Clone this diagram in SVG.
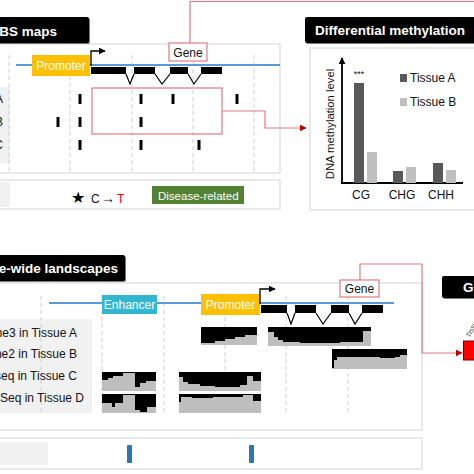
<svg xmlns="http://www.w3.org/2000/svg" width="474" height="474" viewBox="0 0 474 474">
<style>
text{font-family:"Liberation Sans",Arial,sans-serif;}
.panel{fill:#fff;stroke:#E2E2E2;stroke-width:1.5;}
.lab{fill:#F1F1F1;}
.dash{stroke:#CFCFCF;stroke-width:1;stroke-dasharray:4 3;fill:none;}
.blue{stroke:#5B9BD5;stroke-width:2.2;}
.exon{fill:#000;}
.intron{fill:none;stroke:#000;stroke-width:1.2;}
.tick{fill:#000;}
.title{fill:#000;}
.ttext{fill:#fff;font-weight:bold;font-size:13.5px;}
.wtext{fill:#fff;font-size:12px;}
.btext{fill:#111;font-size:12px;}
.pink{fill:none;stroke:#E07A80;stroke-width:1.2;}
.trkbg{fill:#BEBEBE;}
.trk{fill:#000;}
.barA{fill:#595959;}
.barB{fill:#BFBFBF;}
</style>
<defs>
<marker id="ah" viewBox="0 0 10 10" refX="9" refY="5" markerWidth="7" markerHeight="7" orient="auto" markerUnits="userSpaceOnUse"><path d="M0,0 L10,5 L0,10 z" fill="#000"/></marker>
<marker id="ahr" viewBox="0 0 10 10" refX="9" refY="5" markerWidth="7" markerHeight="7" orient="auto" markerUnits="userSpaceOnUse"><path d="M0,0 L10,5 L0,10 z" fill="#C00000"/></marker>
</defs>
<rect width="474" height="474" fill="#fff"/>

<!-- Top panel: BS maps -->
<g id="bs-panel">
<rect class="panel" x="-5" y="44" width="285" height="129"/>
<rect class="lab" x="0" y="87" width="10" height="76"/>
<line class="dash" x1="9" y1="55" x2="9" y2="172"/>
<line class="dash" x1="70" y1="55" x2="70" y2="172"/>
<line class="dash" x1="132" y1="55" x2="132" y2="172"/>
<line class="dash" x1="193" y1="55" x2="193" y2="172"/>
<line class="dash" x1="254" y1="55" x2="254" y2="172"/>
<text class="btext" x="3" y="103" text-anchor="end">Tissue A</text>
<text class="btext" x="3" y="126" text-anchor="end">Tissue B</text>
<text class="btext" x="3" y="149" text-anchor="end">Tissue C</text>
</g>
<g id="bs-title">
<rect x="-4" y="18" width="94" height="26" rx="2" fill="#777"/>
<rect class="title" x="-5" y="17" width="94" height="26" rx="2"/>
<text class="ttext" x="57" y="36" text-anchor="end">WGBS maps</text>
</g>
<g id="bs-gene">
<line class="blue" x1="16" y1="65" x2="280" y2="65"/>
<rect x="32" y="55" width="58" height="21" fill="#FFC000"/>
<text class="wtext" x="61" y="70" text-anchor="middle">Promoter</text>
<path d="M91,66 V51 H105" fill="none" stroke="#000" stroke-width="1.3" marker-end="url(#ah)"/>
<rect class="exon" x="91" y="67" width="35" height="7"/>
<rect class="exon" x="134" y="67" width="21" height="7"/>
<rect class="exon" x="170" y="67" width="18" height="7"/>
<rect class="exon" x="201" y="67" width="21" height="7"/>
<polyline class="intron" points="126,74 130,84 134,74"/>
<polyline class="intron" points="155,74 162,84 170,74"/>
<polyline class="intron" points="188,74 194,84 201,74"/>
</g>
<g id="bs-gene-label">
<rect x="169" y="43" width="38" height="18" fill="#fff" stroke="#E07A80" stroke-width="1.2"/>
<text class="btext" x="188" y="57" text-anchor="middle">Gene</text>
</g>
<g id="bs-sites">
<rect class="tick" x="78.5" y="94" width="3" height="10"/>
<rect class="tick" x="139.5" y="94" width="3" height="10"/>
<rect class="tick" x="171.5" y="94" width="3" height="10"/>
<rect class="tick" x="235.5" y="94" width="3" height="10"/>
<rect class="tick" x="56.5" y="117" width="3" height="10"/>
<rect class="tick" x="78.5" y="117" width="3" height="10"/>
<rect class="tick" x="139.5" y="117" width="3" height="10"/>
<rect class="tick" x="78.5" y="140" width="3" height="10"/>
<rect class="tick" x="139.5" y="140" width="3" height="10"/>
<rect class="tick" x="197.5" y="140" width="3" height="10"/>
</g>
<g id="dmr-highlight">
<rect x="92" y="88" width="130" height="46" fill="none" stroke="#E07A80" stroke-width="1.2"/>
</g>

<!-- Top legend -->
<g id="bs-legend">
<rect class="panel" x="-5" y="180" width="285" height="29"/>
<rect class="lab" x="0" y="182" width="10" height="25"/>
<text x="71" y="203" font-family="DejaVu Sans,sans-serif" font-size="16" fill="#000">★</text>
<text class="btext" x="91" y="203">C</text>
<text x="101" y="203" font-family="DejaVu Sans,sans-serif" font-size="14" fill="#111">→</text>
<text x="117" y="203" font-size="12" fill="#FF0000">T</text>
<rect x="152" y="186" width="92" height="18" fill="#548235"/>
<text x="158" y="199.5" font-size="11.5" fill="#fff">Disease-related</text>
</g>

<!-- Differential methylation -->
<g id="dm-title">
<rect x="306" y="18" width="175" height="26" rx="2" fill="#777"/>
<rect class="title" x="305" y="17" width="175" height="26" rx="2"/>
<text class="ttext" x="315" y="35" font-size="13">Differential methylation</text>
</g>
<g id="dm-chart">
<rect class="panel" x="310" y="48" width="175" height="162"/>
<line x1="342" y1="184" x2="342" y2="58" stroke="#000" stroke-width="1.8" marker-end="url(#ah)"/>
<line x1="341" y1="183" x2="463" y2="183" stroke="#000" stroke-width="2"/>
<text x="0" y="0" font-size="11.3" fill="#111" text-anchor="middle" transform="translate(334,124) rotate(-90)">DNA methylation level</text>
<rect class="barA" x="354" y="83" width="10" height="100"/>
<rect class="barB" x="367" y="152" width="10" height="31"/>
<rect class="barA" x="393" y="171" width="10" height="12"/>
<rect class="barB" x="406" y="167" width="10" height="16"/>
<rect class="barA" x="433" y="163" width="10" height="20"/>
<rect class="barB" x="446" y="170" width="10" height="13"/>
<text x="359" y="77" font-size="9" fill="#111" text-anchor="middle">***</text>
<rect class="barA" x="400" y="74" width="7" height="8"/>
<text class="btext" x="410" y="82">Tissue A</text>
<rect class="barB" x="400" y="98" width="7" height="8"/>
<text class="btext" x="410" y="106">Tissue B</text>
<text class="btext" x="361" y="199" text-anchor="middle">CG</text>
<text class="btext" x="402" y="199" text-anchor="middle">CHG</text>
<text class="btext" x="441" y="199" text-anchor="middle">CHH</text>
</g>

<!-- Bottom panel: genome-wide landscapes -->
<g id="gw-panel">
<rect class="panel" x="-5" y="283" width="427" height="147"/>
<rect class="lab" x="0" y="319" width="92" height="94"/>
<line class="dash" x1="41" y1="296" x2="41" y2="412"/>
<line class="dash" x1="102" y1="296" x2="102" y2="412"/>
<line class="dash" x1="164" y1="296" x2="164" y2="412"/>
<line class="dash" x1="225" y1="296" x2="225" y2="412"/>
<line class="dash" x1="286" y1="296" x2="286" y2="412"/>
<line class="dash" x1="348" y1="296" x2="348" y2="412"/>
<text class="btext" x="77" y="337" text-anchor="end">H3K4me3 in Tissue A</text>
<text class="btext" x="77" y="358" text-anchor="end">H3K9me2 in Tissue B</text>
<text class="btext" x="77" y="380" text-anchor="end">ATAC-seq in Tissue C</text>
<text class="btext" x="84" y="402" text-anchor="end">DNase-Seq in Tissue D</text>
</g>
<g id="gw-title">
<rect x="-4" y="256" width="130" height="26" rx="2" fill="#777"/>
<rect class="title" x="-5" y="255" width="130" height="26" rx="2"/>
<text class="ttext" x="118" y="273" font-size="13" text-anchor="end">Genome-wide landscapes</text>
</g>
<g id="gw-gene">
<line class="blue" x1="49" y1="303" x2="394" y2="303"/>
<rect x="102" y="295" width="55" height="19" fill="#33B7D0"/>
<text class="wtext" x="129.5" y="309" text-anchor="middle">Enhancer</text>
<rect x="201" y="294" width="59" height="21" fill="#FFC000"/>
<text class="wtext" x="230.5" y="309" text-anchor="middle">Promoter</text>
<path d="M260,304 V289 H275" fill="none" stroke="#000" stroke-width="1.3" marker-end="url(#ah)"/>
<rect class="exon" x="261" y="305" width="26" height="8"/>
<rect class="exon" x="295" y="305" width="21" height="8"/>
<rect class="exon" x="331" y="305" width="18" height="8"/>
<rect class="exon" x="362" y="305" width="21" height="8"/>
<polyline class="intron" points="287,313 291,324 295,313"/>
<polyline class="intron" points="316,313 323,324 331,313"/>
<polyline class="intron" points="349,313 355,324 362,313"/>
</g>
<g id="gw-gene-label">
<rect x="340" y="280" width="39" height="17" fill="#fff" stroke="#E07A80" stroke-width="1.2"/>
<text class="btext" x="359.5" y="293" text-anchor="middle">Gene</text>
</g>
<g id="gw-tracks">
<rect class="trkbg" x="201" y="327" width="56" height="18"/>
<polygon class="trk" points="201,327 257,327 257,335 245,335 245,337 235,337 235,339 225,339 225,341 215,341 215,343 201,343"/>
<rect class="trkbg" x="268" y="327" width="103" height="19"/>
<polygon class="trk" points="268,327 371,327 371,331 363,331 363,342 340,342 340,343 300,343 300,342 283,342 283,340 278,340 278,337 274,337 274,332 268,332"/>
<rect class="trkbg" x="332" y="349" width="75" height="20"/>
<polygon class="trk" points="332,349 407,349 407,355 400,355 400,357 395,357 395,358 380,358 380,357 337,357 337,360 334,360 334,368 332,368"/>
<rect class="trkbg" x="102" y="372" width="54" height="19"/>
<polygon class="trk" points="102,372 156,372 156,381 146,381 146,383 140,383 140,387 135,387 135,373 123,373 123,376 113,376 113,378 108,378 108,380 102,380"/>
<rect class="trkbg" x="102" y="394" width="54" height="19"/>
<polygon class="trk" points="102,394 156,394 156,407 147,407 147,412 140,412 140,410 135,410 135,395 123,395 123,403 115,403 115,407 112,407 112,403 102,403"/>
<rect class="trkbg" x="179" y="372" width="82" height="19"/>
<polygon class="trk" points="179,372 261,372 261,381 253,381 253,376 247,376 247,385 240,385 240,387 215,387 215,386 200,386 200,384 188,384 188,382 183,382 183,377 179,377"/>
<rect class="trkbg" x="179" y="394" width="82" height="19"/>
<polygon class="trk" points="179,394 261,394 261,401 253,401 253,395 243,395 243,397 213,397 213,398 192,398 192,397 181,397 181,402 179,402"/>
</g>
<g id="gw-legend">
<rect class="panel" x="-5" y="438" width="427" height="31"/>
<rect class="lab" x="0" y="442" width="48" height="23"/>
<rect x="127" y="445" width="5" height="18" rx="1" fill="#2E75B6"/>
<rect x="249" y="445" width="5" height="18" rx="1" fill="#2E75B6"/>
</g>

<!-- Right: gene expression (cut off) -->
<g id="ge-title">
<rect x="443" y="277" width="40" height="22" rx="2" fill="#777"/>
<rect class="title" x="442" y="276" width="40" height="22" rx="2"/>
<text class="ttext" x="463" y="292">G</text>
</g>
<g id="ge-bar">
<rect x="463.5" y="341" width="14" height="19" fill="#FF0000" stroke="#7A0000" stroke-width="1"/>
<text x="0" y="0" font-size="7" font-style="italic" fill="#333" transform="translate(470,338) rotate(-65)">Tissue A</text>
</g>

<!-- Connectors -->
<g id="connectors">
<path class="pink" d="M190,43 V1.5 H476"/>
<path class="pink" d="M222,111 H265 V128 H306" marker-end="url(#ahr)"/>
<path class="pink" d="M360,280 V264 H422 V353 H462" marker-end="url(#ahr)"/>
</g>
</svg>
